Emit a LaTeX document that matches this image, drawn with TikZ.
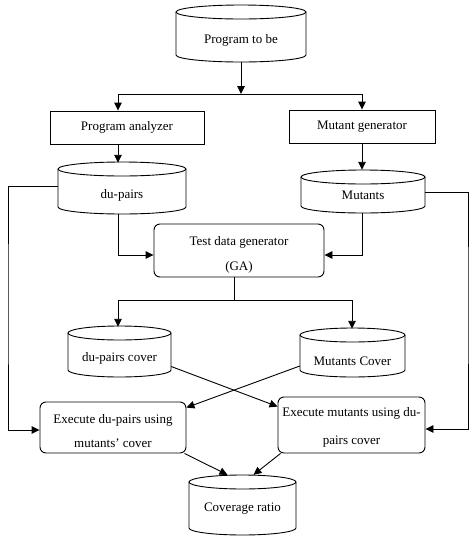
\documentclass[tikz,border=0pt]{standalone}
\usepackage{fontspec}
\setmainfont{Liberation Serif}
\usetikzlibrary{arrows.meta}
\tikzset{
  conn/.style={line width=0.9pt},
  arr/.style={conn,-{Triangle[length=8pt,width=7.5pt]}},
  txt/.style={font=\fontsize{13}{15}\selectfont, inner sep=0pt, align=center},
  boxnode/.style={draw, line width=0.9pt, inner sep=0pt, align=center, font=\fontsize{13}{15}\selectfont},
  roundbox/.style={boxnode, rounded corners=6pt},
}
% name, x1, x2, top, bottom, text y, text
\newcommand\mycyl[7]{%
  \draw[conn, fill=white] (#2,#4+7) -- (#2,#5-7)
     arc[start angle=180, end angle=360, x radius={((#3-#2)/2)*1pt}, y radius=7pt]
     -- (#3,#4+7);
  \draw[conn] ({(#2+#3)/2},#4+7) ellipse[x radius={((#3-#2)/2)*1pt}, y radius=7pt];
  \node[inner sep=0pt, minimum width={(#3-#2)*1pt}, minimum height={(#5-#4)*1pt}] (#1) at ({(#2+#3)/2},{(#4+#5)/2}) {};
  \node[txt] (#1t) at ({(#2+#3)/2},#6) {#7};
}
\begin{document}
\begin{tikzpicture}[x=1pt,y=-1pt]
\useasboundingbox (0,0) rectangle (474,542);

% cylinders
\mycyl{prog}{176}{306}{5}{62}{40}{Program to be}
\mycyl{dupairs}{58}{186}{162}{214}{195}{du-pairs}
\mycyl{mutants}{301}{425}{170}{213}{195}{Mutants}
\mycyl{dupcover}{68}{171}{326}{377}{358}{du-pairs cover}
\mycyl{mutcover}{300}{405}{328}{377}{361}{Mutants Cover}
\mycyl{coverage}{189}{296}{475}{535}{509}{Coverage ratio}

% boxes
\node[boxnode, minimum width=154pt, minimum height=33pt] (analyzer) at (127,127.5) {Program analyzer};
\node[boxnode, minimum width=146pt, minimum height=33pt] (mutgen) at (362,126.5) {Mutant generator};
\node[roundbox, minimum width=170pt, minimum height=53pt] (tdg) at (239,250.5) {};
\node[txt, font=\fontsize{13}{25}\selectfont] (tdgt) at (239,255) {Test data generator\\(GA)};
\node[roundbox, minimum width=146pt, minimum height=51pt] (exdu) at (113,427.5) {};
\node[txt, font=\fontsize{13}{24}\selectfont] (exdut) at (113,431.5) {Execute du-pairs using\\mutants' cover};
\node[roundbox, minimum width=147pt, minimum height=56pt] (exmut) at (351.5,425) {};
\node[txt, font=\fontsize{13}{28}\selectfont] (exmutt) at (351.5,427.5) {Execute mutants using du-\\pairs cover};

% junction coordinates
\coordinate (j1) at (241,94);
\coordinate (j1l) at (118,94);
\coordinate (j1r) at (362,94);
\coordinate (j2) at (234,300);
\coordinate (j2l) at (118,300);
\coordinate (j2r) at (352,300);
\coordinate (lft) at (8,300);
\coordinate (rgt) at (468,300);

% connectors
\draw[arr] (prog.south -| j1) -- (j1);
\draw[conn] (j1l) -- (j1r);
\draw[arr] (j1l) -- (j1l |- analyzer.north);
\draw[arr] (j1r) -- (j1r |- mutgen.north);
\draw[arr] (analyzer.south -| j1l) -- ([yshift=-1pt]dupairs.north -| j1l);
\draw[arr] (mutgen.south -| j1r) -- (mutants.north -| j1r);
\draw[arr] (dupairs.south -| j1l) |- ([yshift=-4.5pt]tdg.west);
\draw[arr] (mutants.south -| j1r) |- ([yshift=-4.5pt]tdg.east);
\draw[conn] (tdg.south -| j2) -- (j2);
\draw[conn] (j2l) -- (j2r);
\draw[arr] (j2l) -- ([yshift=-1pt]dupcover.north -| j2l);
\draw[arr] (j2r) -- ([yshift=-1pt]mutcover.north -| j2r);
\draw[arr] ([yshift=2pt]dupairs.west) -| (lft) |- ([yshift=-2.5pt]exdu.west);
\draw[arr] ([yshift=-1pt]mutants.east) -| (rgt) |- ([yshift=-4pt]exmut.east);
\draw[arr] ([yshift=-15pt]dupcover.east) -- ([yshift=-10pt]exmut.north west);
\draw[arr] ([yshift=-13.5pt]mutcover.west) -- ([yshift=-6pt]exdu.north east);
\draw[arr] ([xshift=-2pt]exdu.south east) -- ([xshift=-15pt]coverage.north);
\draw[arr] ([xshift=3pt]exmut.south west) -- ([xshift=11pt]coverage.north);
\end{tikzpicture}
\end{document}
